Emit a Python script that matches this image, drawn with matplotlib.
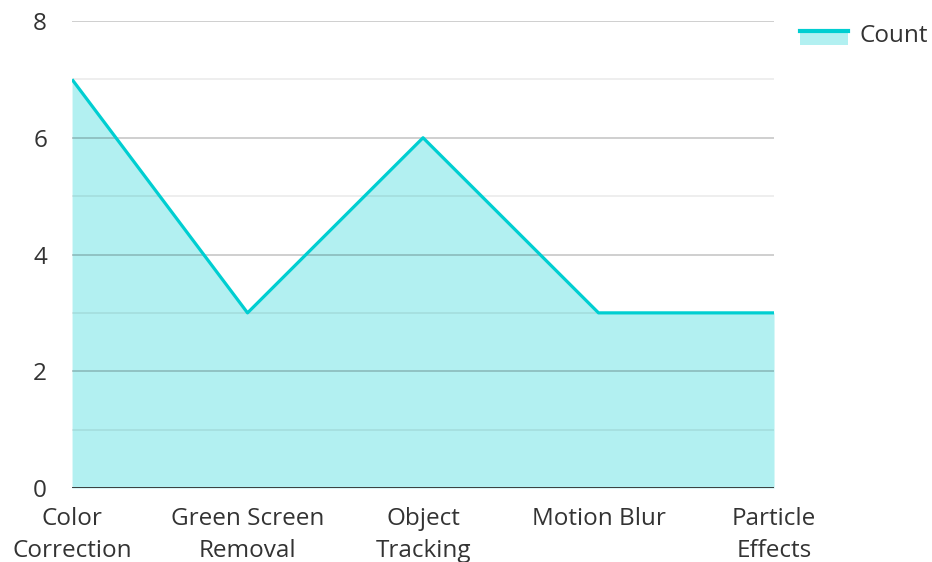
import numpy as np
import matplotlib
matplotlib.use("Agg")
import matplotlib.pyplot as plt
from matplotlib.legend_handler import HandlerBase
from matplotlib.patches import Rectangle
from matplotlib.lines import Line2D

categories = ["Color\nCorrection", "Green Screen\nRemoval", "Object\nTracking", "Motion Blur", "Particle\nEffects"]
counts = [7, 3, 6, 3, 3]
y_ticks = [0, 2, 4, 6, 8]

line_color = "#00CED1"
fill_color = (0 / 255, 206 / 255, 209 / 255, 0.3)

plt.rcParams['font.family'] = ['Open Sans', 'Noto Sans', 'DejaVu Sans']


class AreaHandler(HandlerBase):
    # patch with the line along its top edge, like the original legend
    def create_artists(self, legend, orig, xd, yd, w, h, fontsize, trans):
        dy = -3.5
        p = Rectangle((-xd, -yd + dy), w, h, fc=fill_color, ec='none', transform=trans)
        l = Line2D([-xd, -xd + w], [-yd + h + dy, -yd + h + dy], color=line_color, lw=3, transform=trans)
        return [p, l]


fig = plt.figure(figsize=(9.32, 5.62), dpi=100)
ax = fig.add_axes([0.0773, 0.1317, 0.7532, 0.8309])

x = np.arange(len(categories))
area = ax.fill_between(x, counts, 0, color=fill_color, lw=0, zorder=1)
ax.plot(x, counts, color=line_color, lw=2.3, zorder=4, solid_capstyle='butt')

ax.set_xlim(0, len(categories) - 1)
ax.set_ylim(0, 8)
ax.set_yticks(y_ticks)
ax.set_yticks([1, 3, 5, 7], minor=True)
ax.set_xticks(x)
ax.set_xticklabels(categories, linespacing=1.45)

# translucent grid so it shows through the area fill
ax.grid(axis='y', which='major', color='black', alpha=0.22, lw=1.2, zorder=2)
ax.grid(axis='y', which='minor', color='black', alpha=0.08, lw=1.2, zorder=2)
ax.set_axisbelow(False)
ax.axhline(0, color='#333333', lw=2, zorder=5)

for s in ax.spines.values():
    s.set_visible(False)
ax.tick_params(axis='both', which='both', length=0, labelsize=17.5, colors='#333333')
ax.tick_params(axis='y', pad=18)
ax.tick_params(axis='x', pad=13.5)

leg = fig.legend([area], ["Count"], handler_map={type(area): AreaHandler()},
                 loc='upper left', bbox_to_anchor=(800 / 932, (562 - 24) / 562),
                 bbox_transform=fig.transFigure, frameon=False, borderpad=0, borderaxespad=0,
                 fontsize=17.5, handlelength=1.98, handleheight=0.53, handletextpad=0.45,
                 labelcolor='#333333')

fig.savefig("out.png", dpi=100)
